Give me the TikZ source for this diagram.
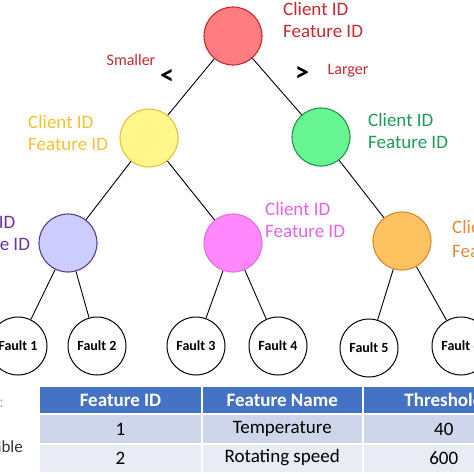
\documentclass[tikz,border=0pt]{standalone}
\usepackage{fontspec}
\setmainfont{Carlito}
\usepackage{xcolor}
\usetikzlibrary{positioning}
\definecolor{rootfill}{HTML}{FF7C80}
\definecolor{rootline}{HTML}{C8282E}
\definecolor{yelfill}{HTML}{FFF68C}
\definecolor{yelline}{HTML}{E8C03C}
\definecolor{yeltext}{HTML}{F2C232}
\definecolor{grnfill}{HTML}{66F590}
\definecolor{grnline}{HTML}{2A8F50}
\definecolor{grntext}{HTML}{1F9A58}
\definecolor{purfill}{HTML}{CCCCFF}
\definecolor{purline}{HTML}{5C3C8C}
\definecolor{purtext}{HTML}{7030A0}
\definecolor{pnkfill}{HTML}{FF88FF}
\definecolor{pnkline}{HTML}{E070E0}
\definecolor{pnktext}{HTML}{E860E8}
\definecolor{orgfill}{HTML}{FFC261}
\definecolor{orgline}{HTML}{D88A30}
\definecolor{orgtext}{HTML}{E6893A}
\definecolor{headblue}{HTML}{4472C4}
\definecolor{rowone}{HTML}{CFD5EA}
\definecolor{rowtwo}{HTML}{E9EBF5}

\begin{document}
\begin{tikzpicture}[x=1pt,y=-1pt,
    splitnode/.style={circle, minimum size=58pt, inner sep=0pt, line width=1.1pt},
    leafnode/.style={circle, draw=black, line width=1pt, minimum size=58pt, inner sep=0pt,
      font=\bfseries\fontsize{14}{16}\selectfont},
    idlabel/.style={anchor=base west, align=left, inner sep=0pt, font=\fontsize{19}{22}\selectfont},
    dirlabel/.style={inner sep=0pt, text=rootline, font=\fontsize{16}{18}\selectfont},
    cmpsign/.style={inner sep=0pt, font=\bfseries\fontsize{28}{30}\selectfont},
    branch/.style={black, line width=0.9pt},
    cellhead/.style={inner sep=0pt, text=white, font=\bfseries\fontsize{19}{22}\selectfont},
    cellbody/.style={inner sep=0pt, font=\fontsize{19}{22}\selectfont}]
    \useasboundingbox (0,0) rectangle (474,474);
    \clip (0,0) rectangle (474,474);

    % split nodes
    \node[splitnode, fill=rootfill, draw=rootline] (root) at (233,36) {};
    \node[splitnode, fill=yelfill, draw=yelline] (yel) at (149,138) {};
    \node[splitnode, fill=grnfill, draw=grnline] (grn) at (321,137) {};
    \node[splitnode, fill=purfill, draw=purline] (pur) at (68,243) {};
    \node[splitnode, fill=pnkfill, draw=pnkline] (pnk) at (233,243) {};
    \node[splitnode, fill=orgfill, draw=orgline] (org) at (402,241) {};

    % leaves
    \foreach \name/\xx/\yy in {1/18/346, 2/97/346, 3/196/346, 4/278/346, 5/369/348, 6/461/346}{
      \node[leafnode] (fault\name) at (\xx,\yy) {Fault \name};
    }

    % branches
    \draw[branch] (root) -- (yel);
    \draw[branch] (root) -- (grn);
    \draw[branch] (yel) -- (pur);
    \draw[branch] (yel) -- (pnk);
    \draw[branch] (grn) -- (org);
    \draw[branch] (pur) -- (fault1);
    \draw[branch] (pur) -- (fault2);
    \draw[branch] (pnk) -- (fault3);
    \draw[branch] (pnk) -- (fault4);
    \draw[branch] (org) -- (fault5);
    \draw[branch] (org) -- (fault6);

    % id labels (base = last line)
    \node[idlabel, text=rootline] (lroot) at (283,37) {Client ID\\Feature ID};
    \node[idlabel, text=yeltext] (lyel) at (28,150) {Client ID\\Feature ID};
    \node[idlabel, text=grntext] (lgrn) at (368,148) {Client ID\\Feature ID};
    \node[idlabel, text=purtext] (lpur) at (-50,250) {Client ID\\Feature ID};
    \node[idlabel, text=pnktext] (lpnk) at (265,237) {Client ID\\Feature ID};
    \node[idlabel, text=orgtext, font=\fontsize{19}{24}\selectfont] (lorg) at (452,257) {Client ID\\Feature ID};

    % comparison
    \node[dirlabel] (small) at (131,60) {Smaller};
    \node[dirlabel] (large) at (348,71) {Larger};
    \node[cmpsign] (lt) at (167,77) {<};
    \node[cmpsign] (gt) at (302,74) {>};

    % side text
    \node[anchor=base east, inner sep=0pt, text=gray!60, font=\fontsize{17}{20}\selectfont] (note) at (4,407) {Note:};
    \node[anchor=base east, inner sep=0pt, text=black!80, font=\fontsize{17}{20}\selectfont] (tname) at (23,452) {Table};

    % table
    \foreach \xa/\xb/\hd/\va/\vb [count=\c] in {40/201/{Feature ID}/1/2,
        202.5/362/{Feature Name}/Temperature/{Rotating speed}, 363.5/524/Threshold/40/600}{
      \fill[headblue] (\xa,387) rectangle (\xb,413);
      \fill[rowone] (\xa,414.5) rectangle (\xb,443);
      \fill[rowtwo] (\xa,444.5) rectangle (\xb,472);
      \node[cellhead] (head\c) at ({(\xa+\xb)/2},400) {\hd};
      \node[cellbody] (rowa\c) at ({(\xa+\xb)/2},429) {\va};
      \node[cellbody] (rowb\c) at ({(\xa+\xb)/2},458) {\vb};
    }
\end{tikzpicture}
\end{document}
